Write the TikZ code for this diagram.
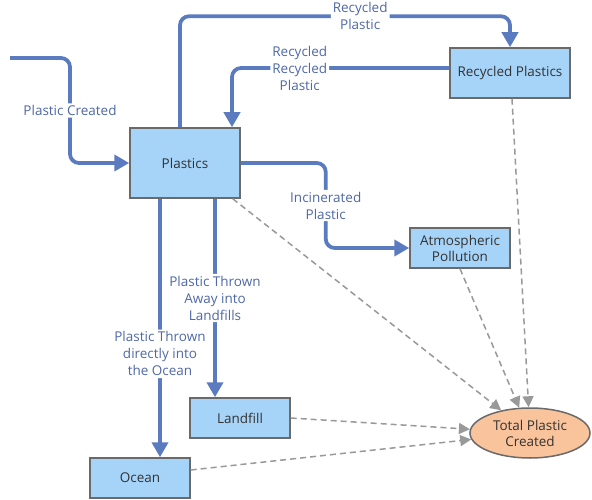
\documentclass[tikz,border=0pt]{standalone}
\usepackage{fontspec}
\setmainfont{Open Sans}
\usetikzlibrary{arrows.meta,shapes.geometric}
\definecolor{flow}{HTML}{5B7BC0}
\definecolor{lbl}{HTML}{4F68A8}
\definecolor{boxfill}{HTML}{A6D3F8}
\definecolor{boxline}{HTML}{6A6A6A}
\definecolor{peach}{HTML}{F9C39C}
\definecolor{dashcol}{HTML}{999999}
\begin{document}
\begin{tikzpicture}[x=1pt,y=-1pt,
  box/.style={draw=boxline, line width=1.5pt, fill=boxfill, inner sep=0pt,
    font=\fontsize{13.5}{16}\selectfont, text=black!80, align=center},
  flowline/.style={draw=flow, line width=3.8pt, rounded corners=9pt,
    -{Triangle[length=15pt,width=16pt]}},
  lab/.style={fill=white, text=lbl, align=center, inner sep=2pt,
    font=\fontsize{13.5}{17}\selectfont},
  dashline/.style={draw=dashcol, line width=1.5pt, dash pattern=on 6pt off 4pt,
    -{Triangle[length=11pt,width=11pt]}}
]
\fill[white] (0,0) rectangle (592,500);
\useasboundingbox (0,0) rectangle (592,500);

\node[box, minimum width=110pt, minimum height=70pt] (pl) at (185,163) {Plastics};
\node[box, minimum width=120pt, minimum height=50pt] (rp) at (510,73) {Recycled Plastics};
\node[box, minimum width=100pt, minimum height=40pt] (ap) at (460,248) {Atmospheric\\Pollution};
\node[box, minimum width=100pt, minimum height=40pt] (lf) at (240,418) {Landfill};
\node[box, minimum width=100pt, minimum height=40pt] (oc) at (140,478) {Ocean};
\node[ellipse, draw=boxline, line width=1.5pt, fill=peach, minimum width=120pt,
  minimum height=50pt, inner sep=0pt, font=\fontsize{13.5}{16}\selectfont,
  text=black!80, align=center] (te) at (530,433) {Total Plastic\\Created};

\coordinate (src) at (10,58);

% flows
\draw[flowline] (src) -- ++(60,0) |- node[lab, pos=0.25] {Plastic Created} (pl.west);
\draw[flowline] ([xshift=-5pt]pl.north) -- ++(0,-111) -| node[lab, pos=0.273] {Recycled\\Plastic} (rp.north);
\draw[flowline] ([yshift=5pt]rp.west) -| node[lab, pos=0.344] {Recycled\\Recycled\\Plastic} ([xshift=47pt]pl.north);
\draw[flowline] (pl.east) -- ++(85,0) |- node[lab, pos=0.25] {Incinerated\\Plastic} (ap.west);
\draw[flowline] ([xshift=30pt]pl.south) -- node[lab, pos=0.5] {Plastic Thrown\\Away into\\Landfills} ([xshift=-25pt]lf.north);
\draw[flowline] ([xshift=-25pt]pl.south) -- node[lab, pos=0.6] {Plastic Thrown\\directly into\\the Ocean} ([xshift=20pt]oc.north);

% dashed
\draw[dashline] ([xshift=-8pt]pl.south east) -- (te);
\draw[dashline] (ap.south) -- (te);
\draw[dashline] ([xshift=2pt]rp.south) -- (te);
\draw[dashline] (lf.east) -- (te);
\draw[dashline] ([yshift=8pt]oc.east) -- (te);
\end{tikzpicture}
\end{document}
